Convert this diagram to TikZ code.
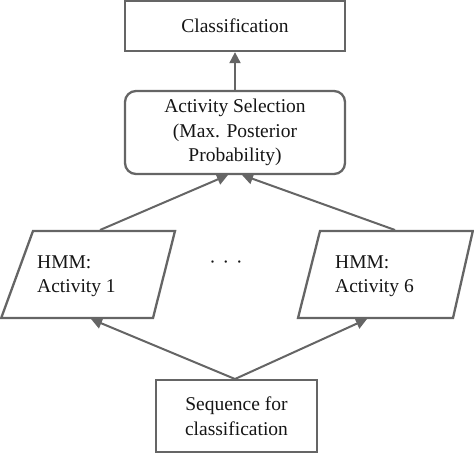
\documentclass[tikz,border=0pt]{standalone}
\usepackage{fontspec}
\setmainfont{Liberation Serif}
\usetikzlibrary{arrows.meta}
\definecolor{linegray}{HTML}{656565}
\definecolor{textgray}{HTML}{151515}
\tikzset{
  box/.style={draw=linegray, line width=2.3bp, fill=white, inner sep=2bp, align=center, text=textgray},
  rbox/.style={box, rounded corners=11bp},
  para/.style={draw=linegray, line width=2.3bp},
  lbl/.style={inner sep=0pt, align=left, anchor=west, text=textgray},
  conn/.style={draw=linegray, line width=2bp, -{Triangle[length=11bp,width=11bp]}}
}
\begin{document}
\begin{tikzpicture}[x=1bp,y=-1bp, font=\fontsize{19.5bp}{24.5bp}\selectfont]
\useasboundingbox (0,0) rectangle (474,454);
% Classification
\node[box, minimum width=220bp, minimum height=50bp] (cls) at (235,26) {Classification};
% Activity selection
\node[rbox, minimum width=220bp, minimum height=83bp] (sel) at (235,132.5) {Activity Selection\\(Max. Posterior\\Probability)};
% Sequence
\node[box, minimum width=161bp, minimum height=72bp] (seq) at (236.5,416) {Sequence for\\classification};
% HMM parallelograms
\draw[para] (33,231) -- (175,231) -- (153,318) -- (1.2,318) -- cycle;
\draw[para] (320,231) -- (472.8,231) -- (453,318) -- (298,318) -- cycle;
\node[lbl] (h1) at (37,276) {HMM:\\Activity 1};
\node[lbl] (h6) at (335,276) {HMM:\\Activity 6};
\node[inner sep=0pt, text=textgray] (dots) at (226,265) {·\hspace{7bp}·\hspace{7bp}·};
% anchor points on the parallelograms
\coordinate (h1b) at (91,319);
\coordinate (h6b) at (367,319);
\coordinate (h1t) at (100,230);
\coordinate (h6t) at (395,230);
\coordinate (seqt) at (235,379);
% connectors
\draw[conn] (sel.north) -- (cls.south);
\draw[conn] (seqt) -- (h1b);
\draw[conn] (seqt) -- (h6b);
\draw[conn] (h1t) -- (228,175);
\draw[conn] (h6t) -- (242,175);
\end{tikzpicture}
\end{document}
